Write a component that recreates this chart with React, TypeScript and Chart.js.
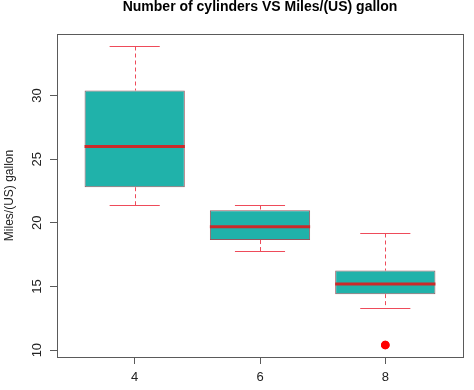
import React, { useEffect, useRef } from 'react';
import { Chart, registerables } from 'chart.js';
Chart.register(...registerables);

const categories = ['4', '6', '8'];
const whiskerLow = [21.4, 17.8, 13.3];
const q1 = [22.8, 18.65, 14.4];
const medians = [26.0, 19.7, 15.2];
const q3 = [30.4, 21.0, 16.25];
const whiskerHigh = [33.9, 21.4, 19.2];
const outlierGroups = [3, 3];
const outlierValues = [10.4, 10.4];
const yTicks = [10, 15, 20, 25, 30];

const TITLE = 'Number of cylinders VS Miles/(US) gallon';
const YLABEL = 'Miles/(US) gallon';
const FONT = '"Liberation Sans", Arial, sans-serif';

const boxPlugin = {
  id: 'boxExtras',
  afterDatasetsDraw(chart: any) {
    const { ctx, scales, chartArea } = chart;
    const xs = scales.x;
    const ys = scales.y;
    ctx.save();
    for (let i = 0; i < categories.length; i++) {
      const cx = Math.round(xs.getPixelForValue(i + 1)) + 0.5;
      const capL = xs.getPixelForValue(i + 1 - 0.2);
      const capR = xs.getPixelForValue(i + 1 + 0.2);
      const yLo = Math.round(ys.getPixelForValue(whiskerLow[i])) + 0.5;
      const yQ1 = ys.getPixelForValue(q1[i]);
      const yQ3 = ys.getPixelForValue(q3[i]);
      const yHi = Math.round(ys.getPixelForValue(whiskerHigh[i])) + 0.5;
      ctx.strokeStyle = '#ee4b5a';
      ctx.lineWidth = 1;
      ctx.setLineDash([4, 3]);
      ctx.beginPath();
      ctx.moveTo(cx, yHi);
      ctx.lineTo(cx, yQ3);
      ctx.moveTo(cx, yQ1);
      ctx.lineTo(cx, yLo);
      ctx.stroke();
      ctx.setLineDash([]);
      ctx.beginPath();
      ctx.moveTo(capL, yHi);
      ctx.lineTo(capR, yHi);
      ctx.moveTo(capL, yLo);
      ctx.lineTo(capR, yLo);
      ctx.stroke();
      const bl = xs.getPixelForValue(i + 1 - 0.4);
      const br = xs.getPixelForValue(i + 1 + 0.4);
      const ym = ys.getPixelForValue(medians[i]);
      ctx.strokeStyle = '#cc2a2a';
      ctx.lineWidth = 3;
      ctx.beginPath();
      ctx.moveTo(bl, ym);
      ctx.lineTo(br, ym);
      ctx.stroke();
    }
    ctx.strokeStyle = '#5a5a5a';
    ctx.lineWidth = 1;
    ctx.strokeRect(
      Math.round(chartArea.left) + 0.5,
      Math.round(chartArea.top) + 0.5,
      Math.round(chartArea.right - chartArea.left),
      Math.round(chartArea.bottom - chartArea.top)
    );
    ctx.fillStyle = '#000';
    ctx.font = `bold 14px ${FONT}`;
    ctx.textAlign = 'center';
    ctx.textBaseline = 'alphabetic';
    ctx.fillText(TITLE, (chartArea.left + chartArea.right) / 2, 11);
    ctx.font = `12px ${FONT}`;
    ctx.fillStyle = '#222';
    ctx.save();
    ctx.translate(12.5, (chartArea.top + chartArea.bottom) / 2);
    ctx.rotate(-Math.PI / 2);
    ctx.fillText(YLABEL, 0, 0);
    ctx.restore();
    ctx.font = `13px ${FONT}`;
    for (const t of yTicks) {
      const py = ys.getPixelForValue(t);
      ctx.save();
      ctx.translate(40.5, py);
      ctx.rotate(-Math.PI / 2);
      ctx.textAlign = 'center';
      ctx.fillText(String(t), 0, 0);
      ctx.restore();
    }
    ctx.restore();
  },
};

export default function App() {
  const ref = useRef<HTMLCanvasElement>(null);
  useEffect(() => {
    document.body.style.margin = '0';
    const canvas = ref.current!;
    const chart = new Chart(canvas, {
      type: 'bar',
      data: {
        datasets: [
          {
            type: 'bar',
            data: categories.map((_, i) => ({ x: i + 1, y: [q1[i], q3[i]] })) as any,
            backgroundColor: '#20B2AA',
            borderColor: '#96585f',
            borderWidth: 1,
            borderSkipped: false,
            categoryPercentage: 1,
            barPercentage: 0.8,
          } as any,
          {
            type: 'scatter',
            data: outlierValues.map((v, i) => ({ x: outlierGroups[i], y: v })),
            pointRadius: 4.3,
            pointBackgroundColor: '#ff0000',
            pointBorderColor: '#ff0000',
            pointBorderWidth: 0,
          } as any,
        ],
      },
      options: {
        responsive: false,
        animation: false,
        layout: { padding: { top: 34, right: 11, left: 0, bottom: 0 } },
        plugins: { legend: { display: false }, tooltip: { enabled: false }, title: { display: false } },
        scales: {
          x: {
            type: 'linear',
            min: 0.38,
            max: 3.62,
            offset: false,
            grid: { display: true, offset: false, drawOnChartArea: false, drawTicks: true, tickLength: 7, color: '#5a5a5a' },
            border: { display: true, color: '#5a5a5a' },
            afterBuildTicks: (s: any) => {
              s.ticks = categories.map((_, i) => ({ value: i + 1 }));
            },
            afterFit: (s: any) => {
              s.height = 33;
            },
            ticks: {
              callback: (v: any) => categories[Math.round(v) - 1],
              font: { size: 13, family: FONT },
              color: '#222',
              padding: 6,
              maxRotation: 0,
              minRotation: 0,
            },
          },
          y: {
            type: 'linear',
            min: 9.46,
            max: 34.84,
            grid: { display: true, offset: false, drawOnChartArea: false, drawTicks: true, tickLength: 7, color: '#5a5a5a' },
            border: { display: true, color: '#5a5a5a' },
            afterBuildTicks: (s: any) => {
              s.ticks = yTicks.map((v) => ({ value: v }));
            },
            afterFit: (s: any) => {
              s.width = 57;
            },
            ticks: { display: false },
          },
        },
      } as any,
      plugins: [boxPlugin],
    });
    return () => chart.destroy();
  }, []);
  return <canvas ref={ref} width={474} height={390} style={{ display: 'block' }} />;
}
